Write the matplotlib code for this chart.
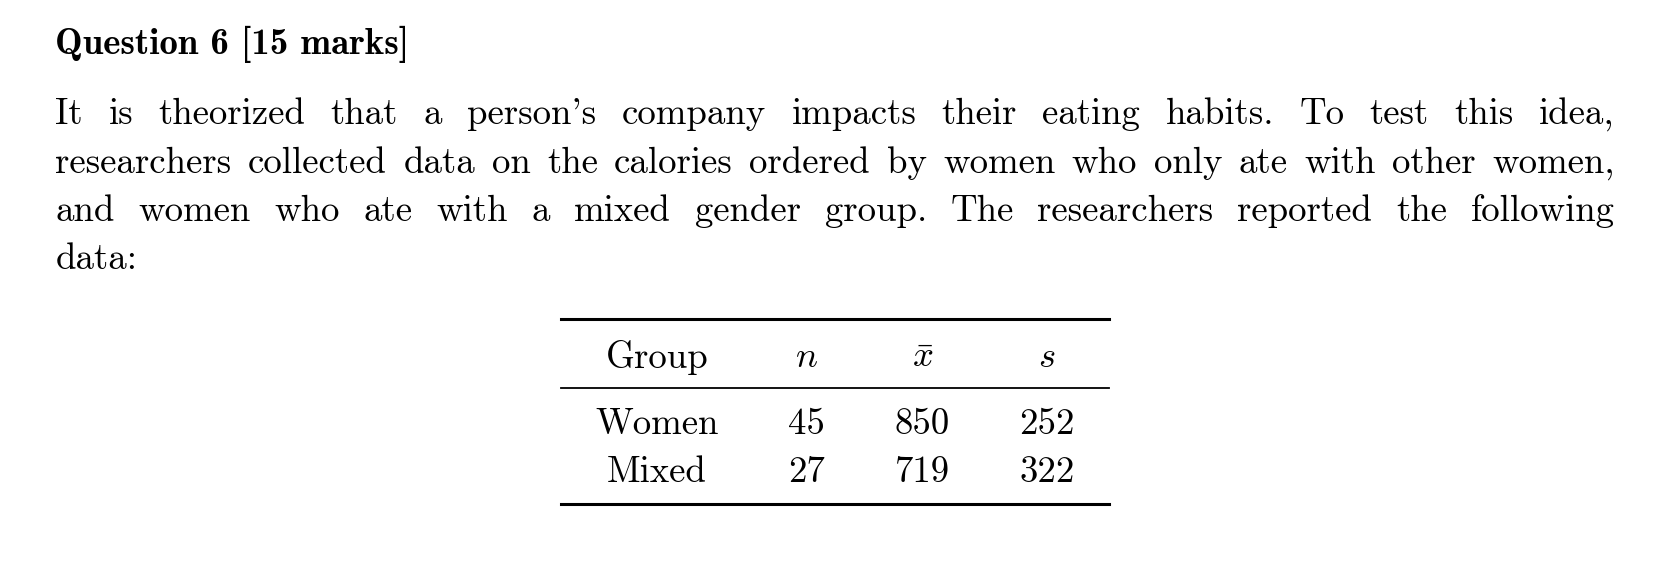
import matplotlib
matplotlib.use("Agg")
import matplotlib.pyplot as plt

plt.rcParams['mathtext.fontset'] = 'cm'

title = "Question 6 [15 marks]"
para = [
    "It is theorized that a person's company impacts their eating habits.  To test this idea,",
    "researchers collected data on the calories ordered by women who only ate with other women,",
    "and women who ate with a mixed gender group.  The researchers reported the following",
    "data:",
]
header = ["Group", r"$n$", r"$\bar{x}$", r"$s$"]
groups = ["Women", "Mixed"]
n_vals = [45, 27]
means = [850, 719]
sds = [252, 322]

W, H = 1568, 548
fig = plt.figure(figsize=(16.7, 5.84), dpi=100)
ax = fig.add_axes([0, 0, 1, 1])
ax.set_xlim(0, W)
ax.set_ylim(H, 0)
ax.axis('off')
r = fig.canvas.get_renderer()
fs = 26.5
scale = W / 1670

ax.text(52, 37, title, fontfamily='cmb10', fontsize=fs, va='center_baseline')

left, right = 52, 1516
ys = [104, 150, 195, 240]
for i, (line, y) in enumerate(zip(para, ys)):
    words = line.split()
    if i == len(para) - 1:
        ax.text(left, y, line, fontfamily='cmr10', fontsize=fs, va='center_baseline')
        continue
    arts = [ax.text(0, y, w, fontfamily='cmr10', fontsize=fs, va='center_baseline') for w in words]
    widths = [a.get_window_extent(r).width * scale for a in arts]
    gap = (right - left - sum(widths)) / (len(words) - 1)
    x = left
    for a, w in zip(arts, widths):
        a.set_x(x)
        x += w + gap

cols = [617, 757, 866, 983]
for x, h in zip(cols, header):
    ax.text(x, 332, h, fontfamily='cmr10', fontsize=fs, ha='center', va='center_baseline')
for j, row in enumerate(zip(groups, n_vals, means, sds)):
    for x, v in zip(cols, row):
        ax.text(x, 395 + 45 * j, str(v), fontfamily='cmr10', fontsize=fs,
                ha='center', va='center_baseline')
ax.plot([527, 1041], [299, 299], color='black', lw=2.2)
ax.plot([527, 1041], [364, 364], color='black', lw=1.3)
ax.plot([527, 1041], [473, 473], color='black', lw=2.2)

fig.savefig("out.png", dpi=100, facecolor='white')
